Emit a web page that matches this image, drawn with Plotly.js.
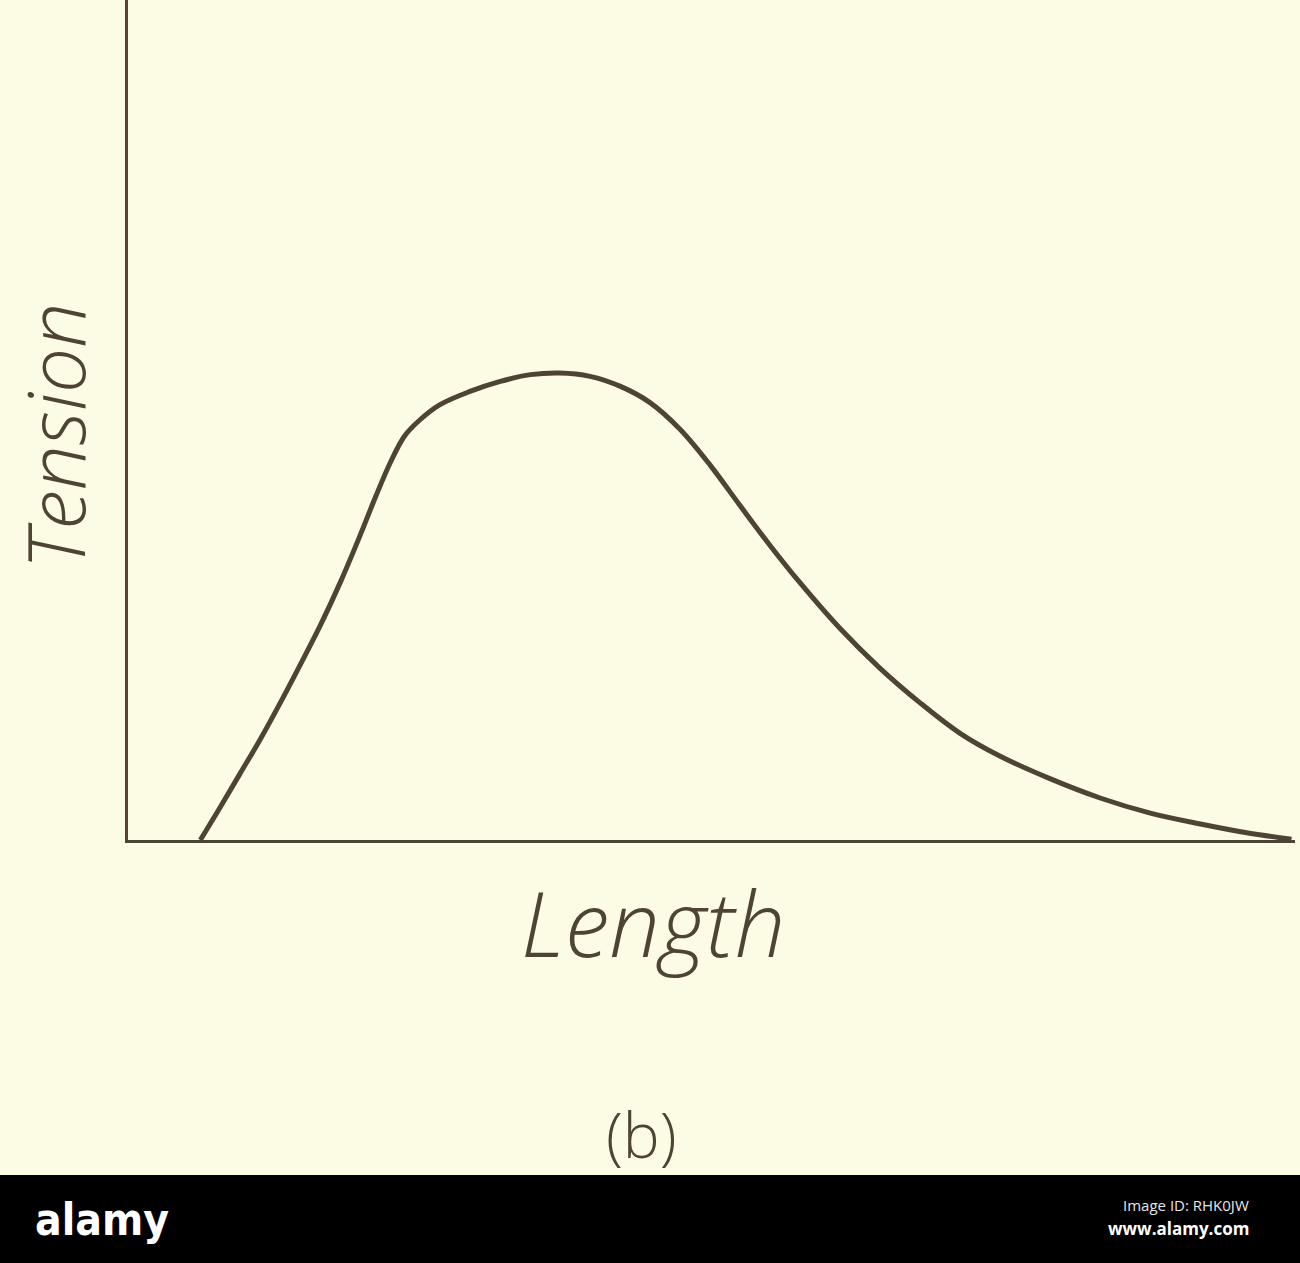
<!DOCTYPE html>
<html>
<head>
<meta charset="utf-8">
<script src="https://cdn.plot.ly/plotly-3.0.1.min.js"></script>
<style>
html,body{margin:0;padding:0;background:#fcfce4;}
#chart{width:1300px;height:1263px;}
</style>
</head>
<body>
<div id="chart"></div>
<script>
// Length (arbitrary units) and Tension (arbitrary units)
const lengthValues = [6.2, 7.9, 9.6, 11.3, 13.0, 14.7, 16.5, 18.2, 19.9, 21.2, 22.5, 23.7, 25.0, 26.7, 29.3, 31.9, 34.5, 37.0, 39.6, 42.2, 44.7, 47.3, 49.9, 52.4, 55.0, 57.6, 61.0, 64.4, 67.9, 71.3, 74.7, 79.0, 83.3, 87.6, 91.9, 96.1, 99.7];
const tensionValues = [0, 3.9, 7.9, 11.9, 16.2, 20.7, 25.6, 30.7, 36.3, 40.8, 45.0, 48.1, 50.0, 51.8, 53.4, 54.6, 55.4, 55.6, 55.2, 54.0, 52.1, 48.9, 44.6, 39.9, 35.1, 30.6, 25.2, 20.5, 16.3, 12.7, 10.0, 7.3, 5.0, 3.2, 1.9, 0.8, 0.1];
const xLabel = "Length";
const yLabel = "Tension";
const panelLabel = "(b)";
const bannerLogo = "alamy";
const bannerId = "Image ID: RHK0JW";
const bannerUrl = "www.alamy.com";

const ink = "#4e4434";
const cream = "#fcfce4";
const labelFont = "'Open Sans', 'DejaVu Sans', sans-serif";

const trace = {
  x: lengthValues,
  y: tensionValues,
  type: "scatter",
  mode: "lines",
  line: {color: ink, width: 5, shape: "spline", smoothing: 1},
  hoverinfo: "skip",
  showlegend: false
};

const layout = {
  width: 1300,
  height: 1263,
  paper_bgcolor: cream,
  plot_bgcolor: cream,
  margin: {l: 128, r: 5, t: 0, b: 423},
  xaxis: {
    range: [0, 100], showgrid: false, zeroline: false, showticklabels: false, ticks: "",
    showline: true, linecolor: "#4a4636", linewidth: 3, fixedrange: true
  },
  yaxis: {
    range: [0, 100], showgrid: false, zeroline: false, showticklabels: false, ticks: "",
    showline: true, linecolor: "#5e4434", linewidth: 3, fixedrange: true
  },
  shapes: [
    {type: "rect", xref: "paper", yref: "paper", x0: -0.2, x1: 1.1,
     y0: (840 - 1263) / 840, y1: (840 - 1175) / 840,
     fillcolor: "#000000", line: {width: 0}, layer: "above"}
  ],
  annotations: [
    {text: xLabel, xref: "paper", yref: "paper", x: (653 - 128) / 1167, y: 0,
     yanchor: "middle", yshift: -82, showarrow: false,
     font: {family: labelFont, size: 90, color: ink, style: "italic", weight: 300}},
    {text: yLabel, xref: "paper", yref: "paper", x: 0, y: (840 - 436) / 840,
     xanchor: "center", yanchor: "middle", xshift: -74, textangle: -90, showarrow: false,
     font: {family: labelFont, size: 80, color: ink, style: "italic", weight: 300}},
    {text: panelLabel, xref: "paper", yref: "paper", x: (641 - 128) / 1167, y: 0,
     yanchor: "middle", yshift: -(1134 - 840), showarrow: false,
     font: {family: labelFont, size: 62, color: ink, weight: 300}},
    {text: "<b>" + bannerLogo + "</b>", xref: "paper", yref: "paper", x: -95 / 1167, y: 0,
     xanchor: "left", yanchor: "middle", yshift: -(1219 - 840), showarrow: false,
     font: {family: "'DejaVu Sans Condensed', 'Liberation Sans Narrow', sans-serif", size: 44, color: "#ffffff"}},
    {text: bannerId, xref: "paper", yref: "paper", x: (1251 - 128) / 1167, y: 0,
     xanchor: "right", yanchor: "middle", yshift: -(1205 - 840), showarrow: false,
     font: {family: "'Open Sans', 'DejaVu Sans', sans-serif", size: 15, color: "#e6e6e6"}},
    {text: "<b>" + bannerUrl + "</b>", xref: "paper", yref: "paper", x: (1251 - 128) / 1167, y: 0,
     xanchor: "right", yanchor: "middle", yshift: -(1228 - 840), showarrow: false,
     font: {family: "'Open Sans', 'DejaVu Sans', sans-serif", size: 17, color: "#ffffff"}}
  ]
};

Plotly.newPlot("chart", [trace], layout, {displayModeBar: false, staticPlot: true});
</script>
</body>
</html>
